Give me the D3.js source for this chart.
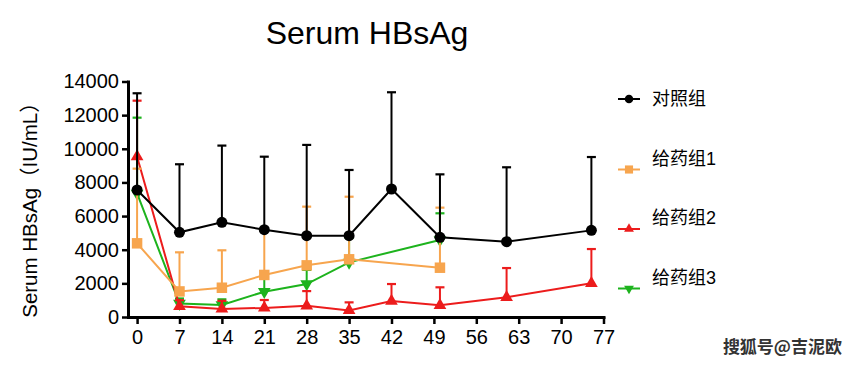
<!DOCTYPE html>
<html>
<head>
<meta charset="utf-8">
<script src="https://cdn.jsdelivr.net/npm/d3@7"></script>
<style>
  body { margin: 0; background: #fff; }
  svg { font-family: "Liberation Sans", Arial, "Noto Sans CJK SC", sans-serif; }
</style>
</head>
<body>
<svg id="chart" width="861" height="365"></svg>
<script>
// values (mean and upper SD, IU/mL)
const daysLong = [0, 7, 14, 21, 28, 35, 42, 50, 61, 75];
const daysShort = [0, 7, 14, 21, 28, 35, 50];

const controlMean = [7550, 5035, 5630, 5190, 4835, 4835, 7610, 4740, 4480, 5150];
const controlSd = [5750, 4045, 4560, 4340, 5395, 3905, 5750, 3740, 4420, 4360];

const group1Mean = [4380, 1520, 1740, 2500, 3070, 3430, 2930];
const group1Sd = [4440, 2325, 2225, 2650, 3490, 3720, 3570];

const group2Mean = [9530, 640, 480, 540, 670, 390, 950, 695, 1170, 2000];
const group2Sd = [3330, 360, 480, 470, 870, 480, 1010, 1070, 1740, 2040];

const group3Mean = [7350, 800, 715, 1505, 1960, 3250, 4580];
const group3Sd = [4500, 300, 335, 795, 840, 1450, 1585];

const xTicks = [0, 7, 14, 21, 28, 35, 42, 49, 56, 63, 70, 77];
const yTicks = [0, 2000, 4000, 6000, 8000, 10000, 12000, 14000];

const seriesNames = ['对照组', '给药组1', '给药组2', '给药组3'];

const svg = d3.select('#chart');
const DIMENSIONS = {
  left: 128,
  right: 603.5,
  top: 81.5,
  bottom: 317
};

const xScale = d3.scaleLinear()
  .domain([-1.5, 77])
  .range([DIMENSIONS.left, DIMENSIONS.right]);

const yScale = d3.scaleLinear()
  .domain([0, 14000])
  .range([DIMENSIONS.bottom, DIMENSIONS.top]);

const series = [
  { name: seriesNames[0], days: daysLong, mean: controlMean, sd: controlSd, color: '#000000', symbol: d3.symbolCircle, size: 95 },
  { name: seriesNames[1], days: daysShort, mean: group1Mean, sd: group1Sd, color: '#F7A54E', symbol: d3.symbolSquare, size: 110 },
  { name: seriesNames[2], days: daysLong, mean: group2Mean, sd: group2Sd, color: '#EC1C1C', symbol: d3.symbolTriangle, size: 70 },
  { name: seriesNames[3], days: daysShort, mean: group3Mean, sd: group3Sd, color: '#1DB31D', symbol: d3.symbolTriangle, size: 70, flip: true }
];

// title
svg.append('text')
  .text('Serum HBsAg')
  .attr('x', 367)
  .attr('y', 44)
  .attr('text-anchor', 'middle')
  .attr('font-size', 32)
  .attr('fill', '#000');

// y axis label
svg.append('text')
  .text('Serum HBsAg（IU/mL）')
  .attr('transform', 'translate(37, 205) rotate(-90)')
  .attr('text-anchor', 'middle')
  .attr('font-size', 20.5)
  .attr('fill', '#000');

// data, drawn back to front so the control group sits on top
const lineGenerator = d3.line()
  .x((d) => xScale(d.day))
  .y((d) => yScale(d.mean));

series.slice().reverse().forEach((s) => {
  const pts = s.days.map((day, i) => ({ day: day, mean: s.mean[i], sd: s.sd[i] }));
  const g = svg.append('g').attr('class', 'series');

  // upward error bars
  g.selectAll('.err')
    .data(pts)
    .join('line')
    .attr('x1', (d) => xScale(d.day))
    .attr('x2', (d) => xScale(d.day))
    .attr('y1', (d) => yScale(d.mean))
    .attr('y2', (d) => yScale(d.mean + d.sd))
    .attr('stroke', s.color)
    .attr('stroke-width', 2);

  g.selectAll('.cap')
    .data(pts)
    .join('line')
    .attr('x1', (d) => xScale(d.day) - 4.5)
    .attr('x2', (d) => xScale(d.day) + 4.5)
    .attr('y1', (d) => yScale(d.mean + d.sd))
    .attr('y2', (d) => yScale(d.mean + d.sd))
    .attr('stroke', s.color)
    .attr('stroke-width', 2.2);

  g.append('path')
    .datum(pts)
    .attr('d', lineGenerator)
    .attr('fill', 'none')
    .attr('stroke', s.color)
    .attr('stroke-width', 2);

  g.selectAll('.pt')
    .data(pts)
    .join('path')
    .attr('d', d3.symbol().type(s.symbol).size(s.size))
    .attr('transform', (d) => `translate(${xScale(d.day)},${yScale(d.mean)})` + (s.flip ? ' rotate(180)' : ''))
    .attr('fill', s.color);
});

// axes
const yAxis = svg.append('g')
  .attr('transform', `translate(${DIMENSIONS.left},0)`)
  .call(d3.axisLeft(yScale).tickValues(yTicks).tickFormat(d3.format('d')).tickSize(6).tickSizeOuter(0).tickPadding(3));

const xAxis = svg.append('g')
  .attr('transform', `translate(0,${DIMENSIONS.bottom})`)
  .call(d3.axisBottom(xScale).tickValues(xTicks).tickSize(7).tickSizeOuter(0).tickPadding(6));

[xAxis, yAxis].forEach((ax) => {
  ax.select('.domain').attr('stroke', '#000').attr('stroke-width', 3).attr('stroke-linecap', 'square');
  ax.selectAll('.tick line').attr('stroke', '#000').attr('stroke-width', 2.5);
  ax.selectAll('.tick text')
    .attr('font-size', 20)
    .attr('fill', '#000')
    .attr('font-family', '"Liberation Sans", Arial, sans-serif');
});

// legend
const legend = svg.append('g').attr('transform', 'translate(618,0)');
series.forEach((s, i) => {
  const textY = 99 + i * 59.5;
  const markY = textY + (i === 0 ? 0 : 11);
  legend.append('line')
    .attr('x1', 0).attr('x2', 22)
    .attr('y1', markY).attr('y2', markY)
    .attr('stroke', s.color)
    .attr('stroke-width', 2);
  legend.append('path')
    .attr('d', d3.symbol().type(s.symbol).size(s.size * 0.6))
    .attr('transform', `translate(11,${markY})` + (s.flip ? ' rotate(180)' : ''))
    .attr('fill', s.color);
  legend.append('text')
    .text(s.name)
    .attr('x', 34)
    .attr('y', textY)
    .attr('dy', '0.35em')
    .attr('font-size', 18)
    .attr('fill', '#000');
});

// watermark
svg.append('text')
  .text('搜狐号@吉泥欧')
  .attr('x', 842)
  .attr('y', 347)
  .attr('dy', '0.35em')
  .attr('text-anchor', 'end')
  .attr('font-size', 17)
  .attr('font-family', '"Noto Sans CJK SC", sans-serif')
  .attr('font-weight', 'bold')
  .attr('fill', '#333');
</script>
</body>
</html>
